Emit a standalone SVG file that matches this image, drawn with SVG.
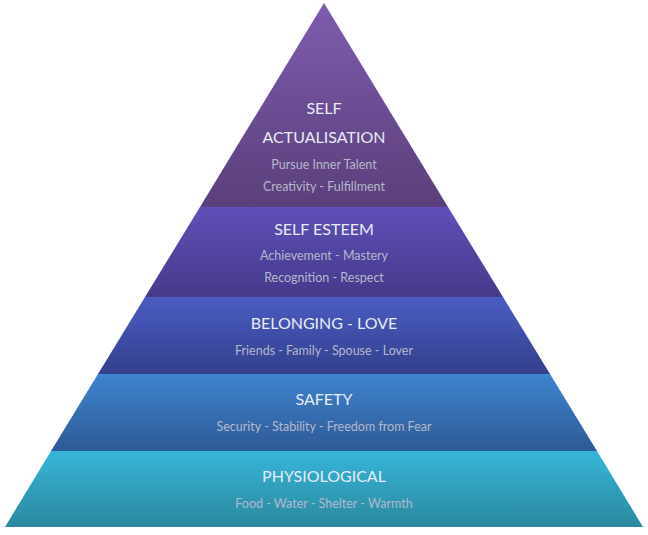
<svg xmlns="http://www.w3.org/2000/svg" width="648" height="535" viewBox="0 0 648 535">
<defs>
<linearGradient id="g1" x1="0" y1="0" x2="0" y2="1"><stop offset="0" stop-color="#7e5caf"/><stop offset="1" stop-color="#5b3f7a"/></linearGradient>
<linearGradient id="g2" x1="0" y1="0" x2="0" y2="1"><stop offset="0" stop-color="#5f50b8"/><stop offset="1" stop-color="#45398a"/></linearGradient>
<linearGradient id="g3" x1="0" y1="0" x2="0" y2="1"><stop offset="0" stop-color="#4a5cc2"/><stop offset="1" stop-color="#33408c"/></linearGradient>
<linearGradient id="g4" x1="0" y1="0" x2="0" y2="1"><stop offset="0" stop-color="#3e84cf"/><stop offset="1" stop-color="#2e5a96"/></linearGradient>
<linearGradient id="g5" x1="0" y1="0" x2="0" y2="1"><stop offset="0" stop-color="#37b6d8"/><stop offset="1" stop-color="#2a889e"/></linearGradient>
</defs>
<style>
.t{font-family:Lato,"Open Sans",sans-serif;font-size:16px;fill:#e6ecf4;text-anchor:middle}
.s{font-family:Lato,"Open Sans",sans-serif;font-size:12.5px;fill:#b4b8cc;text-anchor:middle}
</style>
<g id="self-actualisation">
<polygon points="324,3 448,207 200,207" fill="url(#g1)"/>
<text class="t" x="324" y="114">SELF</text>
<text class="t" x="324" y="143">ACTUALISATION</text>
<text class="s" x="324" y="169">Pursue Inner Talent</text>
<text class="s" x="324" y="191">Creativity - Fulfillment</text>
</g>
<g id="self-esteem">
<polygon points="200,207 448,207 503,297 145,297" fill="url(#g2)"/>
<text class="t" x="324" y="235">SELF ESTEEM</text>
<text class="s" x="324" y="260">Achievement - Mastery</text>
<text class="s" x="324" y="282">Recognition - Respect</text>
</g>
<g id="belonging">
<polygon points="145,297 503,297 550,374 98,374" fill="url(#g3)"/>
<text class="t" x="324" y="329">BELONGING - LOVE</text>
<text class="s" x="324" y="355">Friends - Family - Spouse - Lover</text>
</g>
<g id="safety">
<polygon points="98,374 550,374 597,451 51,451" fill="url(#g4)"/>
<text class="t" x="324" y="405">SAFETY</text>
<text class="s" x="324" y="431">Security - Stability - Freedom from Fear</text>
</g>
<g id="physiological">
<polygon points="51,451 597,451 643,527 5,527" fill="url(#g5)"/>
<text class="t" x="324" y="482">PHYSIOLOGICAL</text>
<text class="s" x="324" y="508">Food - Water - Shelter - Warmth</text>
</g>
<g id="connectors"/>
</svg>
